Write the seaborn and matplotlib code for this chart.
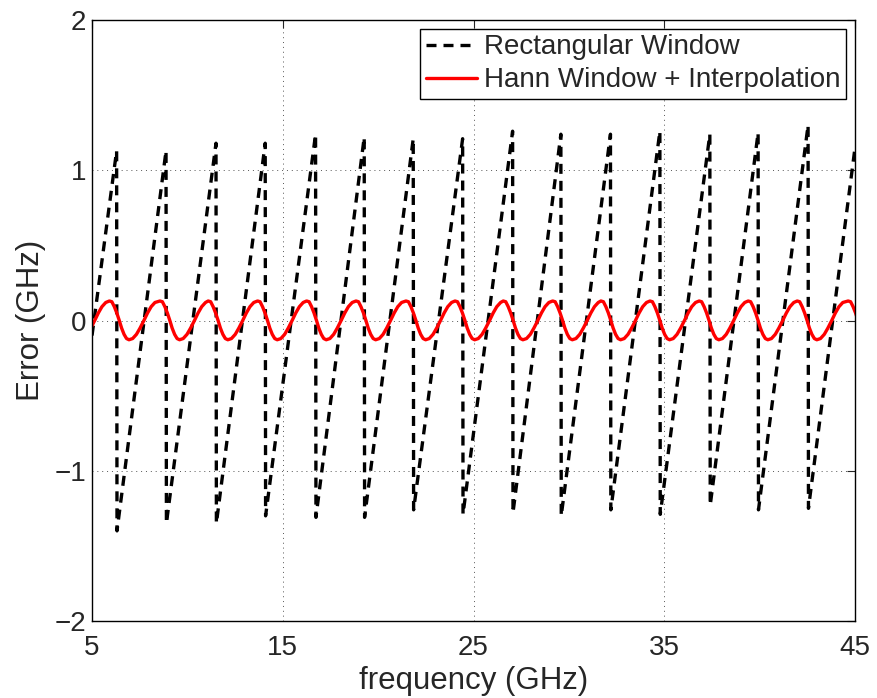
import matplotlib
matplotlib.use("Agg")
import matplotlib.pyplot as plt
import numpy as np
import seaborn as sns

# rectangular window: sawtooth error
rect_start = (5.0, -0.10)
rect_end = (45.0, 1.15)
rect_drop_x = [6.29, 8.88, 11.50, 14.08, 16.72, 19.27, 21.84, 24.43,
               27.05, 29.58, 32.18, 34.77, 37.39, 39.92, 42.54]
rect_peak = [1.13, 1.13, 1.18, 1.18, 1.24, 1.22, 1.21, 1.21,
             1.26, 1.24, 1.24, 1.26, 1.24, 1.25, 1.30]
rect_trough = [-1.40, -1.35, -1.35, -1.30, -1.31, -1.31, -1.26, -1.29,
               -1.28, -1.30, -1.26, -1.29, -1.23, -1.26, -1.25]

# hann window + interpolation: small ripple, one period shape
hann_peak_x = [3.33, 5.91, 8.56, 11.09, 13.68, 16.25, 18.84, 21.46, 24.03,
               26.56, 29.15, 31.68, 34.25, 36.83, 39.40, 41.97, 44.64]
hann_offset = [0.0, 0.13, 0.26, 0.39, 0.52, 0.64, 0.77, 0.90, 1.03,
               1.22, 1.42, 1.61, 1.81, 2.00, 2.19, 2.39]
hann_shape = [0.13, 0.125, 0.092, 0.05, 0.0, -0.05, -0.092, -0.12, -0.128,
              -0.12, -0.092, -0.05, 0.0, 0.05, 0.092, 0.12]

DASH = (3.0, 2.1)


def build_rect():
    xs, ys = [rect_start[0]], [rect_start[1]]
    for x, p, t in zip(rect_drop_x, rect_peak, rect_trough):
        xs += [x, x + 0.02]
        ys += [p, t]
    xs.append(rect_end[0])
    ys.append(rect_end[1])
    return xs, ys


def build_hann():
    xs, ys = [], []
    for px in hann_peak_x:
        for o, v in zip(hann_offset, hann_shape):
            xs.append(px + o)
            ys.append(v)
    return xs, ys


sns.set_style("white")
plt.rcParams["font.family"] = ["Liberation Sans", "DejaVu Sans"]
plt.rcParams["axes.unicode_minus"] = True

fig = plt.figure(figsize=(8.78, 6.98), dpi=100)
ax = fig.add_axes([0.1048, 0.1103, 0.8690, 0.8610])

rx, ry = build_rect()
hx, hy = build_hann()

sns.lineplot(x=rx, y=ry, ax=ax, color="black", lw=2.4, sort=False,
             estimator=None, label="Rectangular Window",
             linestyle=(0, DASH))
sns.lineplot(x=hx, y=hy, ax=ax, color="#ff0000", lw=2.4, sort=False,
             estimator=None, label="Hann Window + Interpolation")

# make sure the rectangular line really is dashed
for ln in ax.get_lines():
    if ln.get_label() == "Rectangular Window" or len(ln.get_xdata()) == len(rx):
        ln.set_linestyle((0, DASH))

ax.set_xlim(5, 45)
ax.set_ylim(-2, 2)
ax.set_xticks([5, 15, 25, 35, 45])
ax.set_yticks([-2, -1, 0, 1, 2])
ax.grid(True, linestyle=(0, (1, 4)), color="#555555", lw=0.7)
ax.tick_params(direction="in", length=6, width=0.8, labelsize=20,
               top=True, right=True)
ax.tick_params(axis="x", pad=10)
ax.tick_params(axis="y", pad=4)
for s in ax.spines.values():
    s.set_visible(True)
    s.set_color("black")
    s.set_linewidth(1.0)

ax.set_xlabel("frequency (GHz)", fontsize=22.5, labelpad=3.5)
ax.set_ylabel("Error (GHz)", fontsize=22.5, labelpad=6)

leg = ax.legend(loc="upper right", fontsize=20, frameon=True, fancybox=False,
                edgecolor="black", framealpha=1, borderaxespad=0.32,
                handlelength=1.85, handletextpad=0.25, borderpad=0.2,
                labelspacing=0.25)
leg.get_frame().set_linewidth(1.0)
leg.get_lines()[0].set_linestyle((0, DASH))

fig.savefig("out.png", dpi=100)
